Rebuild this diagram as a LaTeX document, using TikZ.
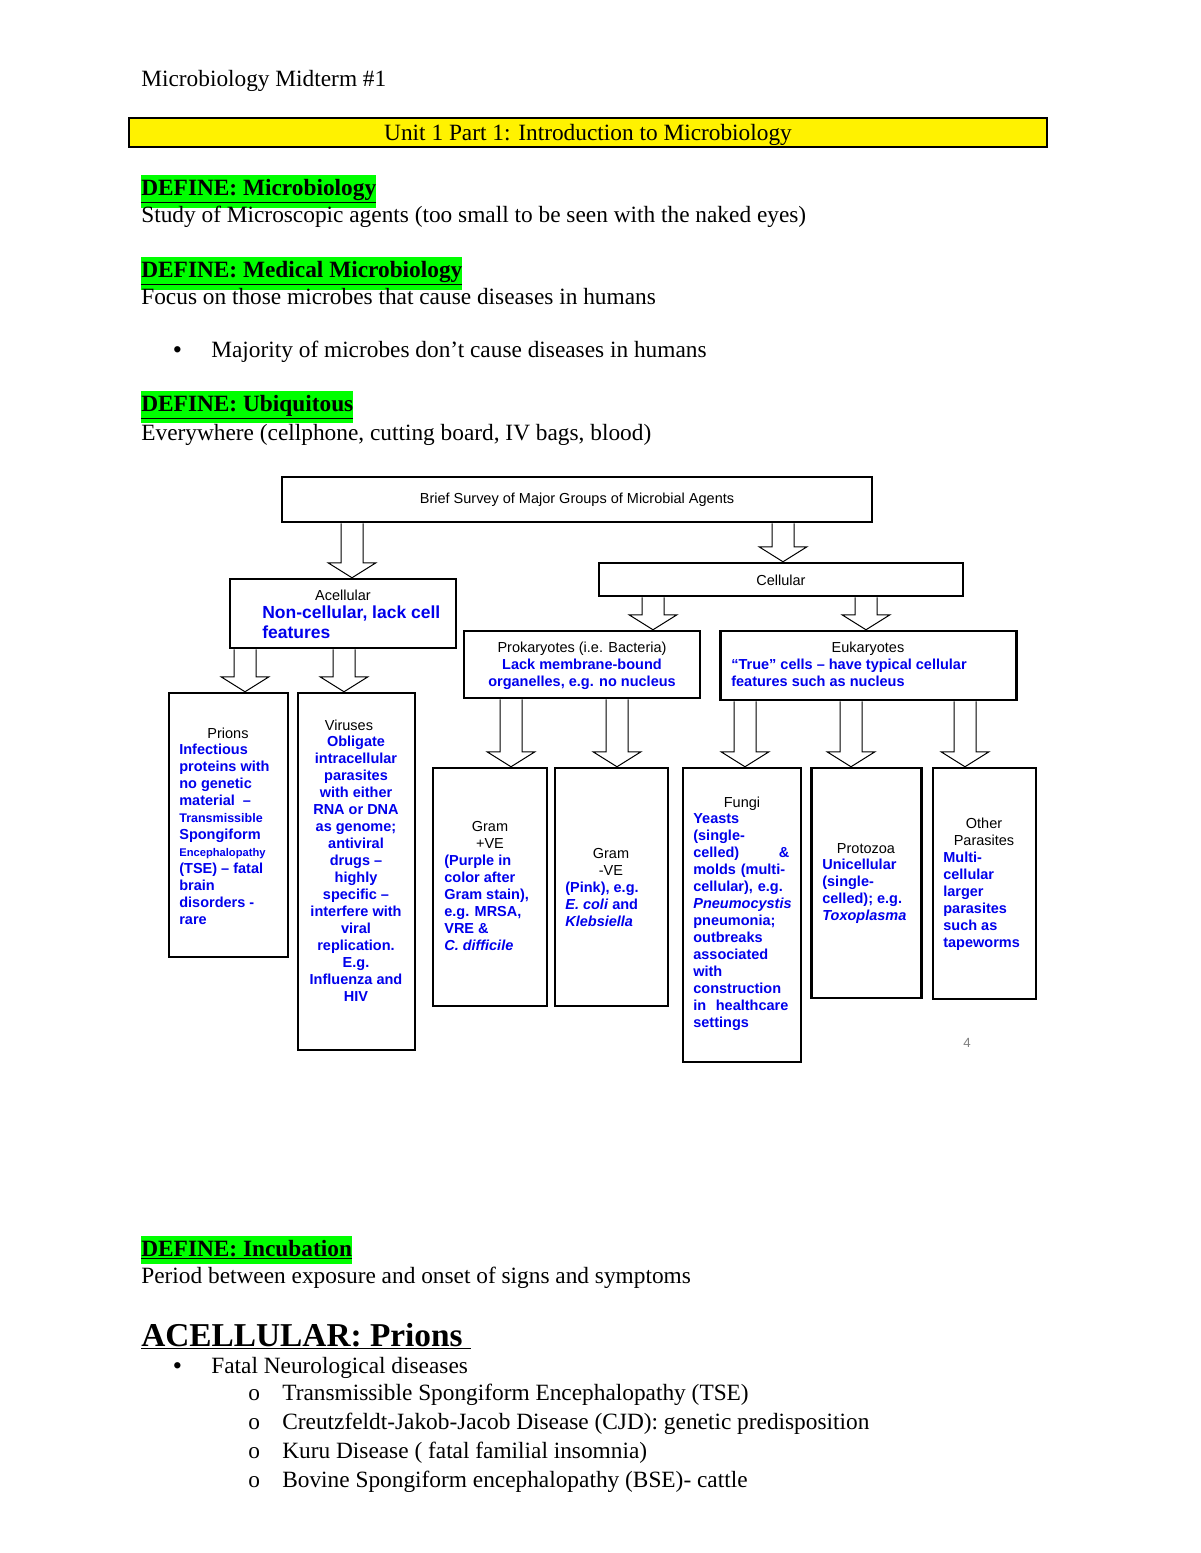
\documentclass[tikz,border=0pt]{standalone}
\usepackage{fontspec}
\setmainfont{Liberation Serif}
\newfontfamily\dsans{Liberation Sans}
\usetikzlibrary{calc}
\newcommand{\myul}[1]{\underline{#1}}
\definecolor{hlgreen}{RGB}{0,255,0}
\definecolor{dblue}{RGB}{0,0,235}
\tikzset{
  box/.style={draw=black,line width=1.5pt,inner sep=0},
  bodytxt/.style={font=\fontsize{14}{16}\selectfont,anchor=base west,inner sep=0},
  deflabel/.style={font=\fontsize{14}{16}\selectfont\bfseries,anchor=base west,fill=hlgreen,inner xsep=0,inner ysep=2.5pt},
  dtitle/.style={font=\dsans\fontsize{8.7}{10.2}\selectfont,align=center,inner sep=0},
  dbody/.style={font=\dsans\bfseries\fontsize{8.7}{10.2}\selectfont,text=dblue,inner sep=0,anchor=north},
  barr/.style={draw=black,line width=0.6pt}
}
\newcommand{\blockarrow}[3]{%
  \draw[barr] let \p1=(#2.south), \p2=(#3.north) in
    (#1*0.6pt-6.6pt,\y1) -- (#1*0.6pt-6.6pt,\y2+9pt) -- (#1*0.6pt-14.4pt,\y2+9pt) -- (#1*0.6pt,\y2)
    -- (#1*0.6pt+14.4pt,\y2+9pt) -- (#1*0.6pt+6.6pt,\y2+9pt) -- (#1*0.6pt+6.6pt,\y1);}
\begin{document}
\begin{tikzpicture}[x=0.6pt,y=-0.6pt]
\useasboundingbox (0,0) rectangle (1200,1553);
% header
\node[bodytxt] (hdr) at (141,86) {Microbiology Midterm \#1};
\node[draw=black,line width=1.2pt,fill=yellow,minimum width=918*0.6pt,minimum height=29*0.6pt,inner sep=0] (unit) at (588,132.5) {};
\node[font=\fontsize{14}{16}\selectfont,inner sep=0,anchor=base] (unitt) at (588,140) {\myul{Unit 1 Part 1: Introduction to Microbiology}};
% definitions
\node[deflabel] (d1) at (141,195) {\myul{DEFINE: Microbiology}};
\node[bodytxt] (t1) at (141,222) {Study of Microscopic agents (too small to be seen with the naked eyes)};
\node[deflabel] (d2) at (141,277) {\myul{DEFINE: Medical Microbiology}};
\node[bodytxt] (t2) at (141,304) {Focus on those microbes that cause diseases in humans};
\node[bodytxt,font=\dsans\fontsize{14}{16}\selectfont] (b1) at (173,357) {\textbullet};
\node[bodytxt] (t3) at (211,357) {Majority of microbes don’t cause diseases in humans};
\node[deflabel] (d3) at (141,411) {\myul{DEFINE: Ubiquitous}};
\node[bodytxt] (t4) at (141,440) {Everywhere (cellphone, cutting board, IV bags, blood)};
% diagram boxes
\node[box,minimum width=590*0.6pt,minimum height=45*0.6pt] (top) at (577,499.5) {};
\node[dtitle] (topt) at (577,500) {Brief Survey of Major Groups of Microbial Agents};
\node[box,minimum width=226*0.6pt,minimum height=69*0.6pt] (acel) at (343,613.5) {};
\node[box,minimum width=364*0.6pt,minimum height=33*0.6pt] (cell) at (781,579.5) {};
\node[dtitle] (cellt) at (781,580) {Cellular};
\node[box,minimum width=236*0.6pt,minimum height=67*0.6pt] (prok) at (582,664.5) {};
\node[box,minimum width=296*0.6pt,minimum height=69*0.6pt] (euk) at (868.5,665.5) {};
\node[box,minimum width=119*0.6pt,minimum height=264*0.6pt] (prion) at (228.5,825) {};
\node[box,minimum width=117*0.6pt,minimum height=357*0.6pt] (virus) at (356.5,871.5) {};
\node[box,minimum width=114*0.6pt,minimum height=238*0.6pt] (gpos) at (490,887) {};
\node[box,minimum width=113*0.6pt,minimum height=238*0.6pt] (gneg) at (611.5,887) {};
\node[box,minimum width=118*0.6pt,minimum height=294*0.6pt] (fungi) at (742,915) {};
\node[box,minimum width=110*0.6pt,minimum height=230*0.6pt] (proto) at (866.5,883) {};
\node[box,minimum width=103*0.6pt,minimum height=231*0.6pt] (other) at (984.5,883.5) {};
% arrows
\blockarrow{352}{top}{acel}
\blockarrow{783}{top}{cell}
\blockarrow{245}{acel}{prion}
\blockarrow{344}{acel}{virus}
\blockarrow{653}{cell}{prok}
\blockarrow{866}{cell}{euk}
\blockarrow{511}{prok}{gpos}
\blockarrow{617}{prok}{gneg}
\blockarrow{745}{euk}{fungi}
\blockarrow{851}{euk}{proto}
\blockarrow{965}{euk}{other}
% box texts
\node[dtitle] (acelt) at (343,595) {Acellular};
\node[dbody,anchor=north west,font=\dsans\bfseries\fontsize{10.5}{12}\selectfont,align=left] (acelb) at (262,605) {Non-cellular, lack cell\\features};
\node[dtitle] (prokt) at (582,649) {Prokaryotes (i.e. Bacteria)};
\node[dbody,align=center] (prokb) at (582,659) {Lack membrane-bound\\organelles, e.g. no nucleus};
\node[dtitle] (eukt) at (868,649) {Eukaryotes};
\node[dbody,anchor=north west,align=left] (eukb) at (731,659) {“True” cells – have typical cellular\\features such as nucleus};
\node[dtitle] (priont) at (228,733) {Prions};
\node[dbody,anchor=north west,align=left] (prionb) at (179,744) {Infectious\\proteins with\\no genetic\\material ~–\\{\fontsize{7.5}{10.2}\selectfont Transmissible}\\Spongiform\\{\fontsize{6.7}{10.2}\selectfont Encephalopathy}\\(TSE) – fatal\\brain\\disorders -\\rare};
\node[dtitle] (virust) at (349,725) {Viruses};
\node[dbody,align=center] (virusb) at (356,736) {Obligate\\intracellular\\parasites\\with either\\RNA or DNA\\as genome;\\antiviral\\drugs –\\highly\\specific –\\interfere with\\viral\\replication.\\E.g.\\Influenza and\\HIV};
\node[dtitle] (gpost) at (490,835) {Gram\\+VE};
\node[dbody,anchor=north west,align=left] (gposb) at (444,855) {(Purple in\\color after\\Gram stain),\\e.g. MRSA,\\VRE \&\\\textit{C. difficile}};
\node[dtitle] (gnegt) at (611,862) {Gram\\-VE};
\node[dbody,anchor=north west,align=left] (gnegb) at (565,882) {(Pink), e.g.\\\textit{E. coli} and\\\textit{Klebsiella}};
\node[dtitle] (fungit) at (742,804) {Fungi};
\node[dbody,anchor=north west,align=left,text width=96*0.6pt] (fungib) at (693,813) {Yeasts\\(single-\\celled)\hfill\&\\molds (multi-\\cellular), e.g.\\\textit{Pneumocystis}\\pneumonia;\\outbreaks\\associated\\with\\construction\\in~ healthcare\\settings};
\node[dtitle] (protot) at (866,849) {Protozoa};
\node[dbody,anchor=north west,align=left] (protob) at (822,859) {Unicellular\\(single-\\celled); e.g.\\\textit{Toxoplasma}};
\node[dtitle] (othert) at (984,832) {Other\\Parasites};
\node[dbody,anchor=north west,align=left] (otherb) at (943,852) {Multi-\\cellular\\larger\\parasites\\such as\\tapeworms};
\node[font=\dsans\fontsize{8}{10}\selectfont,text=gray,inner sep=0] (pg) at (967,1043) {4};
% lower text
\node[deflabel] (d4) at (141,1256) {\myul{DEFINE: Incubation}};
\node[bodytxt] (t5) at (141,1283) {Period between exposure and onset of signs and symptoms};
\node[bodytxt,font=\fontsize{20}{22}\selectfont\bfseries] (acp) at (141,1346) {\myul{ACELLULAR: Prions }};
\node[bodytxt,font=\dsans\fontsize{14}{16}\selectfont] (b2) at (173,1373) {\textbullet};
\node[bodytxt] (t6) at (211,1373) {Fatal Neurological diseases};
\node[bodytxt] (o1) at (248,1400) {o};
\node[bodytxt] (s1) at (282,1400) {Transmissible Spongiform Encephalopathy (TSE)};
\node[bodytxt] (o2) at (248,1429) {o};
\node[bodytxt] (s2) at (282,1429) {Creutzfeldt-Jakob-Jacob Disease (CJD): genetic predisposition};
\node[bodytxt] (o3) at (248,1458) {o};
\node[bodytxt] (s3) at (282,1458) {Kuru Disease ( fatal familial insomnia)};
\node[bodytxt] (o4) at (248,1487) {o};
\node[bodytxt] (s4) at (282,1487) {Bovine Spongiform encephalopathy (BSE)- cattle};
\end{tikzpicture}
\end{document}
